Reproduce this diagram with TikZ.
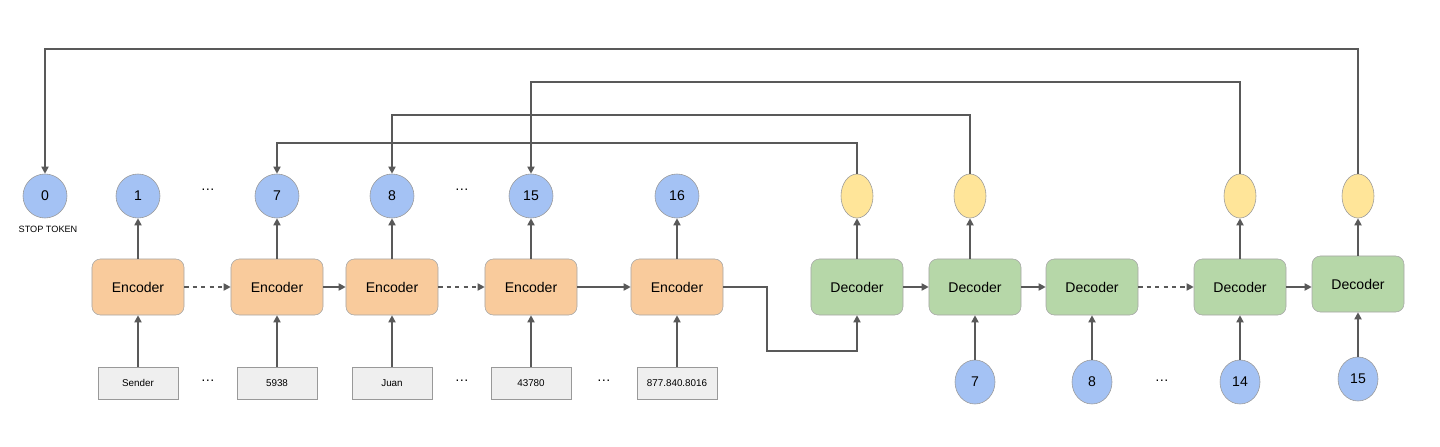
\documentclass[tikz,border=0pt]{standalone}
\usepackage{fontspec}
\setmainfont{Liberation Sans}
\usetikzlibrary{arrows.meta,shapes.geometric}
\definecolor{encf}{HTML}{F9CB9C}
\definecolor{decf}{HTML}{B6D7A8}
\definecolor{tokf}{HTML}{A4C2F4}
\definecolor{outf}{HTML}{FFE599}
\definecolor{boxf}{HTML}{EFEFEF}
\definecolor{ln}{HTML}{595959}
\begin{document}
\begin{tikzpicture}[x=0.025cm,y=-0.025cm,
  enc/.style={rectangle, rounded corners=6pt, minimum width=2.3cm, minimum height=1.4cm, draw=black!35, fill=encf, font=\fontsize{10}{12}\selectfont},
  dec/.style={enc, fill=decf},
  tok/.style={circle, minimum size=1.1cm, inner sep=0pt, draw=black!40, fill=tokf, font=\fontsize{10}{12}\selectfont},
  btok/.style={ellipse, minimum width=1.0cm, minimum height=1.1cm, inner sep=0pt, draw=black!40, fill=tokf, font=\fontsize{10}{12}\selectfont},
  outp/.style={ellipse, minimum width=0.8cm, minimum height=1.1cm, inner sep=0pt, draw=black!40, fill=outf},
  inp/.style={rectangle, minimum width=2cm, minimum height=0.8cm, draw=black!40, fill=boxf, font=\fontsize{7}{8}\selectfont},
  dots/.style={font=\fontsize{10}{12}\selectfont},
  arr/.style={draw=ln, line width=1.2pt, -{Triangle[length=5pt,width=5pt]}},
  darr/.style={arr, dashed}]
\useasboundingbox (0,0) rectangle (1440,447);
% top tokens
\node[tok] (t0) at (45,196) {0};
\node[font=\fontsize{6.5}{8}\selectfont] (stop) at (48,229) {STOP TOKEN};
\node[tok] (t1) at (138,196) {1};
\node[tok] (t7) at (277,196) {7};
\node[tok] (t8) at (392,196) {8};
\node[tok] (t15) at (531,196) {15};
\node[tok] (t16) at (677,196) {16};
\node[dots] (d1) at (208,190) {\dots};
\node[dots] (d2) at (462,190) {\dots};
% encoders
\node[enc] (e1) at (138,287) {Encoder};
\node[enc] (e2) at (277,287) {Encoder};
\node[enc] (e3) at (392,287) {Encoder};
\node[enc] (e4) at (531,287) {Encoder};
\node[enc] (e5) at (677,287) {Encoder};
% inputs
\node[inp] (i1) at (138,383) {Sender};
\node[inp] (i2) at (277,383) {5938};
\node[inp] (i3) at (392,383) {Juan};
\node[inp] (i4) at (531,383) {43780};
\node[inp] (i5) at (677,383) {877.840.8016};
\node[dots] (d3) at (208,381) {\dots};
\node[dots] (d4) at (462,381) {\dots};
\node[dots] (d5) at (604,381) {\dots};
% decoders
\node[dec] (c1) at (857,287) {Decoder};
\node[dec] (c2) at (975,287) {Decoder};
\node[dec] (c3) at (1092,287) {Decoder};
\node[dec] (c4) at (1240,287) {Decoder};
\node[dec] (c5) at (1358,284) {Decoder};
% outputs
\node[outp] (o1) at (857,196) {};
\node[outp] (o2) at (970,196) {};
\node[outp] (o3) at (1240,196) {};
\node[outp] (o4) at (1358,196) {};
% decoder inputs
\node[btok] (b7) at (975,382) {7};
\node[btok] (b8) at (1092,382) {8};
\node[btok] (b14) at (1240,382) {14};
\node[btok] (b15) at (1358,379) {15};
\node[dots] (d6) at (1162,381) {\dots};
% vertical arrows
\foreach \a/\b in {i1/e1,i2/e2,i3/e3,i4/e4,i5/e5,e1/t1,e2/t7,e3/t8,e4/t15,e5/t16,
                   b7/c2,b8/c3,b14/c4,b15/c5,c1/o1,c4/o3,c5/o4}
  \draw[arr] (\a) -- (\b);
\draw[arr] (c2.north -| o2) -- (o2);
% horizontal chain
\draw[darr] (e1) -- (e2);
\draw[arr] (e2) -- (e3);
\draw[darr] (e3) -- (e4);
\draw[arr] (e4) -- (e5);
\draw[arr] (c1) -- (c2);
\draw[arr] (c2) -- (c3);
\draw[darr] (c3) -- (c4);
\draw[arr] (c4.east) -- (c4.east -| c5.west);
\draw[arr] (e5.east) -- (767,287) -- (767,351) -| (c1.south);
% feedback
\draw[arr] (o1.north) |- (277,143) -- (t7.north);
\draw[arr] (o2.north) |- (392,115) -- (t8.north);
\draw[arr] (o3.north) |- (531,82) -- (t15.north);
\draw[arr] (o4.north) |- (45,49) -- (t0.north);
\end{tikzpicture}
\end{document}
